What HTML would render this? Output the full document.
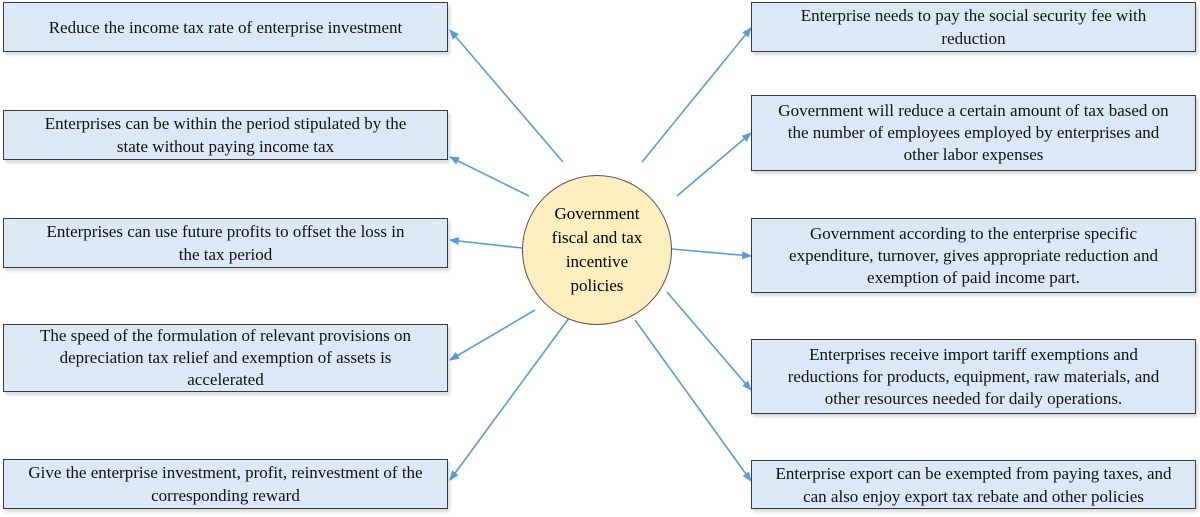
<!DOCTYPE html>
<html><head><meta charset="utf-8"><style>
body{margin:0;width:1200px;height:517px;background:#fff;position:relative;overflow:hidden;}
.b,.c{font-family:"Liberation Serif","Times New Roman","DejaVu Serif",serif;}
.b{position:absolute;box-sizing:border-box;background:#dce8f5;border:1.5px solid #3a3a3a;box-shadow:2px 3px 3px rgba(0,0,0,0.15);display:flex;align-items:center;justify-content:center;text-align:center;font-size:17px;line-height:23px;color:#111;padding:0 4px;white-space:nowrap;}
.t{line-height:22px}
.l{left:3px;width:445px}
.r{left:751px;width:445px}
.c{position:absolute;left:522px;top:175px;width:150px;height:150px;border-radius:50%;background:#fdeec0;border:1.5px solid #555;box-sizing:border-box;display:flex;align-items:center;justify-content:center;text-align:center;font-size:17px;line-height:24px;}
svg{position:absolute;left:0;top:0}
</style></head><body>
<svg width="1200" height="517">
<defs><marker id="a" markerWidth="10" markerHeight="8" refX="9" refY="4" orient="auto" markerUnits="userSpaceOnUse"><path d="M0,0 L10,4 L0,8 z" fill="#5b9bd5"/></marker></defs>
<g stroke="#5b9bd5" stroke-width="1.6" marker-end="url(#a)">
<line x1="563" y1="162" x2="450" y2="30"/>
<line x1="529" y1="196" x2="450" y2="157"/>
<line x1="522" y1="248" x2="450" y2="240"/>
<line x1="535" y1="310" x2="450" y2="360"/>
<line x1="572" y1="314" x2="450" y2="480"/>
<line x1="642" y1="162" x2="751" y2="28"/>
<line x1="677" y1="196" x2="751" y2="133"/>
<line x1="672" y1="249" x2="751" y2="256"/>
<line x1="667" y1="292" x2="751" y2="390"/>
<line x1="635" y1="320" x2="751" y2="481"/>
</g></svg>
<div class="b l" style="top:2px;height:50px">Reduce the income tax rate of enterprise investment</div>
<div class="b l" style="top:110px;height:50px">Enterprises can be within the period stipulated by the<br>state without paying income tax</div>
<div class="b l" style="top:218px;height:50px">Enterprises can use future profits to offset the loss in<br>the tax period</div>
<div class="b l t" style="top:324px;height:68px">The speed of the formulation of relevant provisions on<br>depreciation tax relief and exemption of assets is<br>accelerated</div>
<div class="b l" style="top:459px;height:50px">Give the enterprise investment, profit, reinvestment of the<br>corresponding reward</div>
<div class="b r" style="top:2px;height:50px">Enterprise needs to pay the social security fee with<br>reduction</div>
<div class="b r t" style="top:95px;height:76px">Government will reduce a certain amount of tax based on<br>the number of employees employed by enterprises and<br>other labor expenses</div>
<div class="b r t" style="top:218px;height:75px">Government according to the enterprise specific<br>expenditure, turnover, gives appropriate reduction and<br>exemption of paid income part.</div>
<div class="b r t" style="top:339px;height:75px">Enterprises receive import tariff exemptions and<br>reductions for products, equipment, raw materials, and<br>other resources needed for daily operations.</div>
<div class="b r" style="top:460px;height:49px">Enterprise export can be exempted from paying taxes, and<br>can also enjoy export tax rebate and other policies</div>
<div class="c">Government<br>fiscal and tax<br>incentive<br>policies</div>
</body></html>
